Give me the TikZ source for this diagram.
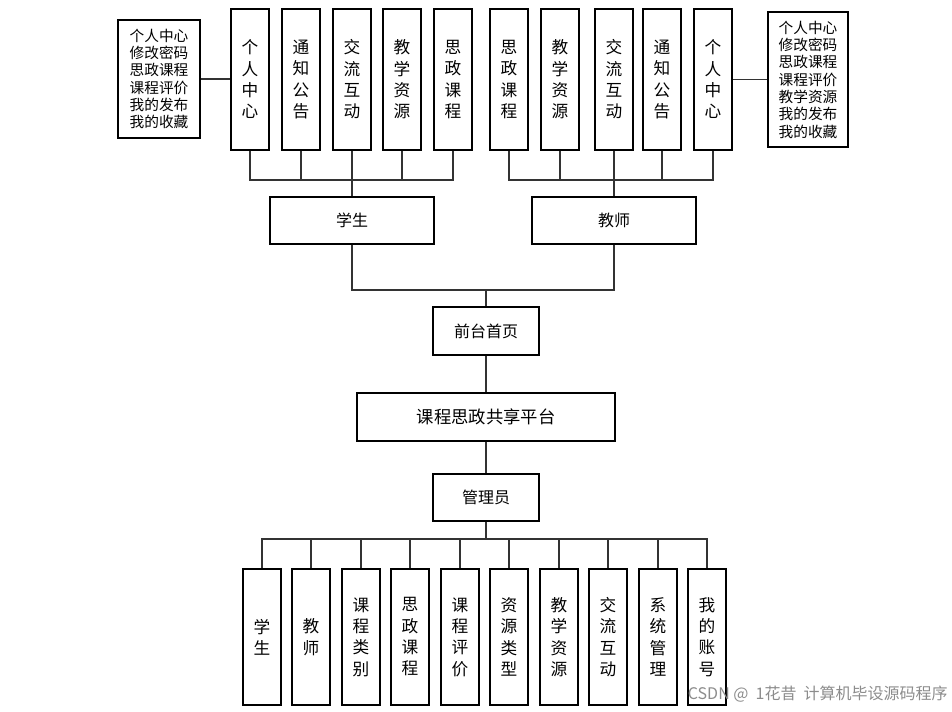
\documentclass[tikz,border=0pt]{standalone}
\usepackage{fontspec}
\setmainfont{Noto Sans CJK SC}
\begin{document}
\begin{tikzpicture}[x=0.75pt,y=-0.75pt,
  box/.style={draw,line width=0.8pt,inner sep=0pt,font=\fontsize{12}{15}\selectfont},
  vbox/.style={box,minimum width=28.5pt,minimum height=105.75pt,align=center,font=\fontsize{12.5}{16}\selectfont},
  lst/.style={draw,line width=0.8pt,align=center,inner sep=0pt,font=\fontsize{11}{13}\selectfont},
  wire/.style={line width=0.8pt,draw=black!80}]
\useasboundingbox (0,0) rectangle (952,712);
% top-left
\foreach \n/\x/\t in {sa/250/个\\人\\中\\心, sb/301/通\\知\\公\\告, sc/352/交\\流\\互\\动, sd/402/教\\学\\资\\源, se/453/思\\政\\课\\程}
  \node[vbox] (\n) at (\x,79.5) {\t};
\node[lst,minimum width=61.5pt,minimum height=88.5pt] (sl) at (159,79) {个人中心\\修改密码\\思政课程\\课程评价\\我的发布\\我的收藏};
\node[box,minimum width=123pt,minimum height=35.25pt] (stu) at (352,220.5) {学生};
% top-right
\foreach \n/\x/\t in {ta/509/思\\政\\课\\程, tb/560/教\\学\\资\\源, tc/614/交\\流\\互\\动, td/662/通\\知\\公\\告, te/713/个\\人\\中\\心}
  \node[vbox] (\n) at (\x,79.5) {\t};
\node[lst,minimum width=60pt,minimum height=101.25pt] (tl) at (808,79.5) {个人中心\\修改密码\\思政课程\\课程评价\\教学资源\\我的发布\\我的收藏};
\node[box,minimum width=123pt,minimum height=35.25pt] (tea) at (614,220.5) {教师};
\coordinate (bs) at (352,180);
\coordinate (bt) at (614,180);
\foreach \n in {sa,sb,sc,sd,se} \draw[wire] (\n.south) |- (bs);
\foreach \n in {ta,tb,tc,td,te} \draw[wire] (\n.south) |- (bt);
\draw[wire] (bs) -- (stu.north);
\draw[wire] (bt) -- (tea.north);
\draw[wire] (sl.east) -- (sa.west|-sl.east);
\draw[wire] (tl.west) -- (te.east|-tl.west);
% middle
\node[box,minimum width=79.5pt,minimum height=36pt] (qt) at (486,331) {前台首页};
\node[box,minimum width=193.5pt,minimum height=36pt,font=\fontsize{13}{16}\selectfont] (pt) at (486,417) {课程思政共享平台};
\node[box,minimum width=79.5pt,minimum height=35.25pt] (gl) at (486,497.5) {管理员};
\coordinate (m) at (486,290);
\draw[wire] (stu.south) |- (m);
\draw[wire] (tea.south) |- (m);
\draw[wire] (m) -- (qt.north);
\draw[wire] (qt) -- (pt);
\draw[wire] (pt) -- (gl);
% bottom
\coordinate (bb) at (486,539);
\foreach \n/\x/\t in {b1/262/学\\生, b2/311/教\\师, b3/361/课\\程\\类\\别, b4/410/思\\政\\课\\程, b5/460/课\\程\\评\\价, b6/509/资\\源\\类\\型, b7/559/教\\学\\资\\源, b8/608/交\\流\\互\\动, b9/658/系\\统\\管\\理, b10/707/我\\的\\账\\号}
  {\node[vbox,minimum height=102pt] (\n) at (\x,637) {\t};
   \draw[wire] (\n.north) |- (bb);}
\draw[wire] (gl.south) -- (bb);
\node[text=black!45,font=\fontsize{12}{14}\selectfont,anchor=east,inner sep=0pt] (wm) at (948,694) {CSDN @\ \ 1花昔\ \ 计算机毕设源码程序};
\end{tikzpicture}
\end{document}
